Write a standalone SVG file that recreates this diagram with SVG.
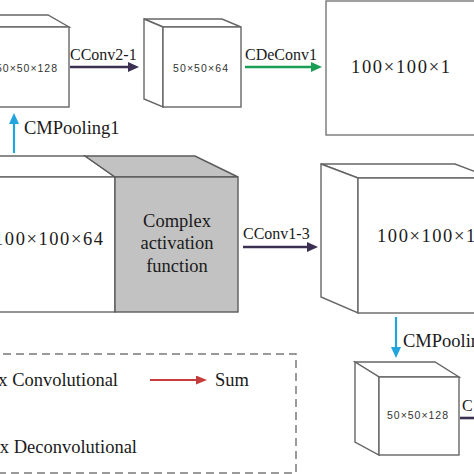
<svg xmlns="http://www.w3.org/2000/svg" width="474" height="474" viewBox="0 0 474 474">
<style>
.edge{fill:#ffffff;stroke:#666666;stroke-width:1.4;stroke-linejoin:miter}
.grey{fill:#c2c2c2;stroke:#5a5a5a;stroke-width:1.4}
.big{font-family:"Liberation Serif","Times New Roman",serif;font-size:18.5px;fill:#1a1a1a}
.lab{font-family:"Liberation Serif","Times New Roman",serif;font-size:16px;fill:#1a1a1a}
.small{font-family:"Liberation Sans",Arial,sans-serif;font-size:10.5px;fill:#333333}
.conv{stroke:#3b3052;stroke-width:2.6;fill:none}
.deconv{stroke:#1a9e55;stroke-width:2.6;fill:none}
.pool{stroke:#22a4dc;stroke-width:2.2;fill:none}
.sum{stroke:#c43c3c;stroke-width:2.2;fill:none}
</style>
<defs>
<marker id="hConv" markerUnits="userSpaceOnUse" markerWidth="11" markerHeight="10" refX="2" refY="5" orient="auto"><path d="M0,0 L11,5 L0,10 z" fill="#3b3052"/></marker>
<marker id="hDeconv" markerUnits="userSpaceOnUse" markerWidth="11" markerHeight="10" refX="2" refY="5" orient="auto"><path d="M0,0 L11,5 L0,10 z" fill="#1a9e55"/></marker>
<marker id="hPool" markerUnits="userSpaceOnUse" markerWidth="11" markerHeight="10" refX="2" refY="5" orient="auto"><path d="M0,0 L11,5 L0,10 z" fill="#22a4dc"/></marker>
<marker id="hSum" markerUnits="userSpaceOnUse" markerWidth="11" markerHeight="9" refX="2" refY="4.5" orient="auto"><path d="M0,0 L11,4.5 L0,9 z" fill="#c43c3c"/></marker>
</defs>
<rect x="0" y="0" width="474" height="474" fill="#ffffff"/>

<g id="cube1">
<polygon class="edge" points="-10,15 48,15 69,27 -10,27"/>
<rect class="edge" x="-10" y="27" width="79" height="80"/>
<text class="small" x="-4" y="72" textLength="61" lengthAdjust="spacing">50×50×128</text>
</g>

<g id="cube2">
<polygon class="edge" points="144,19 222,19 241,27 163,27"/>
<polygon class="edge" points="144,19 163,27 163,107 144,99"/>
<rect class="edge" x="163" y="27" width="78" height="80"/>
<text class="small" x="173" y="72" textLength="55" lengthAdjust="spacing">50×50×64</text>
</g>

<g id="output">
<rect x="326" y="1" width="160" height="134" fill="#ffffff" stroke="#777777" stroke-width="1.4"/>
<text class="big" x="351" y="73" font-size="19" textLength="99" lengthAdjust="spacing">100×100×1</text>
</g>

<g id="block1">
<polygon class="edge" points="-10,156 85,156 115,177 -10,177"/>
<rect class="edge" x="-10" y="177" width="125" height="135"/>
<text class="big" x="-6" y="245" textLength="109" lengthAdjust="spacing">100×100×64</text>
</g>

<g id="activation">
<polygon class="grey" points="85,156 195,156 238,177 115,177"/>
<rect class="grey" x="115" y="177" width="123" height="135"/>
<text class="big" x="177" y="227" text-anchor="middle">Complex</text>
<text class="big" x="177" y="249" text-anchor="middle">activation</text>
<text class="big" x="177" y="272" text-anchor="middle">function</text>
</g>

<g id="cube3">
<polygon class="edge" points="321,164 455,164 492,178 358,178"/>
<polygon class="edge" points="321,164 358,178 358,313 321,297"/>
<rect class="edge" x="358" y="178" width="130" height="135"/>
<text class="big" x="377" y="242" textLength="109" lengthAdjust="spacing">100×100×16</text>
</g>

<g id="cube4">
<polygon class="edge" points="355,362 435,362 459,377 379,377"/>
<polygon class="edge" points="355,362 379,377 379,455 355,442"/>
<rect class="edge" x="379" y="377" width="80" height="78"/>
<text class="small" x="387" y="419" textLength="61" lengthAdjust="spacing">50×50×128</text>
</g>

<g id="connectors">
<line class="conv" x1="70" y1="67" x2="130" y2="67" marker-end="url(#hConv)"/>
<text class="lab" x="70" y="60">CConv2-1</text>
<line class="deconv" x1="245" y1="67" x2="313" y2="67" marker-end="url(#hDeconv)"/>
<text class="lab" x="245" y="60">CDeConv1</text>
<line class="pool" x1="14" y1="153" x2="14" y2="122" marker-end="url(#hPool)"/>
<text class="big" x="24" y="134" font-size="17.5">CMPooling1</text>
<line class="conv" x1="243" y1="247" x2="309" y2="247" marker-end="url(#hConv)"/>
<text class="lab" x="243" y="239">CConv1-3</text>
<line class="pool" x1="396" y1="317" x2="396" y2="349" marker-end="url(#hPool)"/>
<text class="big" x="403" y="347" font-size="17.5">CMPooling2</text>
<line class="conv" x1="460" y1="418" x2="480" y2="418"/>
<text class="lab" x="462" y="411">C</text>
</g>

<g id="legend">
<rect x="-10" y="354" width="306" height="119" fill="none" stroke="#7a7a7a" stroke-width="1.5" stroke-dasharray="8 5"/>
<text class="big" x="118" y="386" text-anchor="end">Complex Convolutional</text>
<line class="sum" x1="150" y1="380" x2="198" y2="380" marker-end="url(#hSum)"/>
<text class="big" x="215" y="386">Sum</text>
<text class="big" x="137" y="453" text-anchor="end">Complex Deconvolutional</text>
</g>
</svg>
